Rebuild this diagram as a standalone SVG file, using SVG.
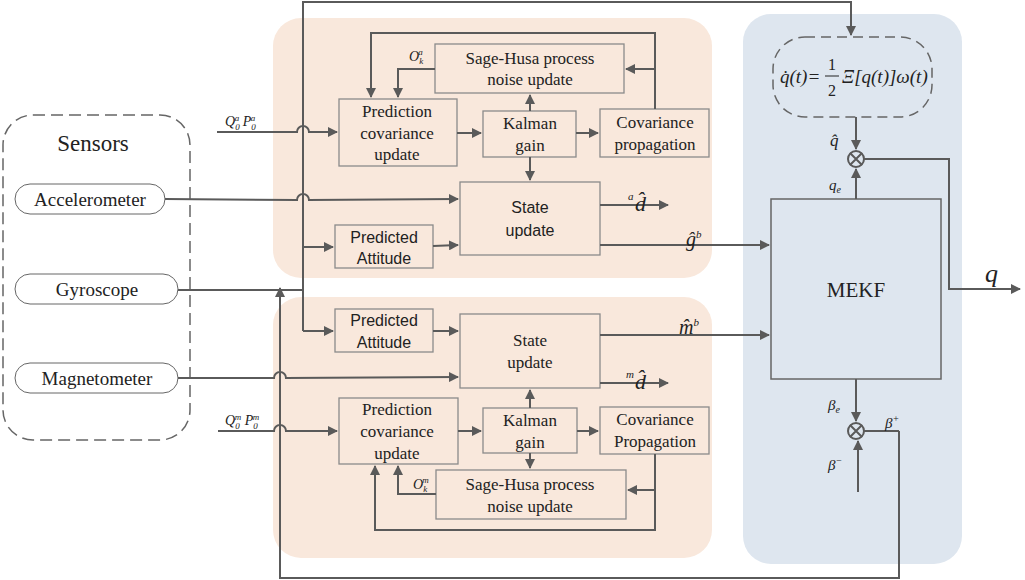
<svg xmlns="http://www.w3.org/2000/svg" width="1025" height="580" viewBox="0 0 1025 580">
<defs>
<marker id="a" markerWidth="10" markerHeight="10" refX="9" refY="5" orient="auto" markerUnits="userSpaceOnUse"><path d="M0,0 L10,5 L0,10 Z" fill="#5a5a5a"/></marker>
<style>
.b{fill:none;stroke:#8a8a8a;stroke-width:1.3}
.l{fill:none;stroke:#5a5a5a;stroke-width:2}
text{fill:#222}
.t{font-family:"Liberation Serif","Times New Roman",serif;text-anchor:middle}
.s{font-family:"Liberation Sans",Arial,sans-serif;text-anchor:middle}
.m{font-family:"Liberation Serif","Times New Roman",serif;font-style:italic}
</style>
</defs>
<rect width="1025" height="580" fill="#fff"/>
<rect x="273" y="18" width="439" height="260" rx="28" fill="#f9e8dc"/>
<rect x="273" y="297" width="439" height="261" rx="28" fill="#f9e8dc"/>
<rect x="743" y="14" width="219" height="550" rx="28" fill="#dee6ef"/>

<g font-family="Liberation Serif, serif" font-size="17">
<g id="sensors"><rect x="3" y="115" width="187" height="325" rx="30" fill="none" stroke="#666" stroke-width="1.5" stroke-dasharray="12,6"/><text x="93" y="151" class="t" font-size="23">Sensors</text></g>
<g id="acc"><rect x="15" y="184" width="150" height="30" rx="15" fill="#fff" stroke="#666"/><text x="90" y="206" class="t" font-size="19">Accelerometer</text></g>
<g id="gyro"><rect x="15" y="274" width="163" height="30" rx="15" fill="#fff" stroke="#666"/><text x="97" y="296" class="t" font-size="19">Gyroscope</text></g>
<g id="mag"><rect x="15" y="363" width="163" height="30" rx="15" fill="#fff" stroke="#666"/><text x="97" y="385" class="t" font-size="19">Magnetometer</text></g>

<g id="sh1"><rect class="b" x="435" y="44" width="189" height="49"/><text class="t" x="530" y="64">Sage-Husa process</text><text class="t" x="530" y="85">noise update</text></g>
<g id="pc1"><rect class="b" x="339" y="99" width="118" height="67"/><text class="t" x="397" y="117">Prediction</text><text class="t" x="397" y="139">covariance</text><text class="t" x="397" y="160">update</text></g>
<g id="kg1"><rect class="b" x="483" y="111" width="93" height="46"/><text class="t" x="530" y="129">Kalman</text><text class="t" x="530" y="151">gain</text></g>
<g id="cp1"><rect class="b" x="600" y="109" width="109" height="48"/><text class="t" x="655" y="128">Covariance</text><text class="t" x="655" y="150">propagation</text></g>
<g id="su1"><rect class="b" x="460" y="182" width="140" height="73"/><text class="s" x="530" y="213" font-size="16">State</text><text class="s" x="530" y="236" font-size="16">update</text></g>
<g id="pa1"><rect class="b" x="335" y="225" width="98" height="43"/><text class="s" x="384" y="243" font-size="16">Predicted</text><text class="s" x="384" y="264" font-size="16">Attitude</text></g>

<g id="pa2"><rect class="b" x="335" y="309" width="98" height="43"/><text class="s" x="384" y="326" font-size="16">Predicted</text><text class="s" x="384" y="348" font-size="16">Attitude</text></g>
<g id="su2"><rect class="b" x="460" y="314" width="140" height="74"/><text class="t" x="530" y="346">State</text><text class="t" x="530" y="368">update</text></g>
<g id="pc2"><rect class="b" x="339" y="398" width="119" height="66"/><text class="t" x="397" y="415">Prediction</text><text class="t" x="397" y="437">covariance</text><text class="t" x="397" y="459">update</text></g>
<g id="kg2"><rect class="b" x="483" y="408" width="94" height="45"/><text class="t" x="530" y="426">Kalman</text><text class="t" x="530" y="448">gain</text></g>
<g id="cp2"><rect class="b" x="600" y="407" width="109" height="47"/><text class="t" x="655" y="425">Covariance</text><text class="t" x="655" y="447">Propagation</text></g>
<g id="sh2"><rect class="b" x="436" y="470" width="190" height="49"/><text class="t" x="530" y="490">Sage-Husa process</text><text class="t" x="530" y="512">noise update</text></g>

<g id="formula"><rect x="773" y="37" width="159" height="80" rx="32" fill="none" stroke="#666" stroke-width="1.5" stroke-dasharray="10,6"/>
<text class="m" x="780" y="83" font-size="19">q̇(t)=</text><text class="t" x="832" y="70" font-size="16">1</text><line x1="825" y1="76" x2="839" y2="76" stroke="#222"/><text class="t" x="832" y="96" font-size="16">2</text><text class="m" x="842" y="83" font-size="19">Ξ[q(t)]ω(t)</text></g>
<g id="mekf"><rect x="771" y="199" width="170" height="180" fill="none" stroke="#666" stroke-width="1.5"/><text class="t" x="856" y="297" font-size="21">MEKF</text></g>
<g id="sum1"><circle cx="856" cy="159" r="8" fill="none" stroke="#5a5a5a" stroke-width="2"/><path d="M850,153 L862,165 M862,153 L850,165" stroke="#5a5a5a" stroke-width="2"/></g>
<g id="sum2"><circle cx="856" cy="431" r="8" fill="none" stroke="#5a5a5a" stroke-width="2"/><path d="M850,425 L862,437 M862,425 L850,437" stroke="#5a5a5a" stroke-width="2"/></g>
</g>

<g id="connectors">
<path class="l" d="M178,290 H303"/>
<path class="l" d="M303,331 V2 H851 V35" marker-end="url(#a)"/>
<path class="l" d="M899,431 V578 H280 V288" marker-end="url(#a)"/>
<path class="l" d="M217,132 H297 a6,6 0 0 1 12,0 H337" marker-end="url(#a)"/>
<path class="l" d="M165,199 L297,200 a6,6 0 0 1 12,0 L458,199" marker-end="url(#a)"/>
<path class="l" d="M303,247 H333" marker-end="url(#a)"/>
<path class="l" d="M433,246 L458,245" marker-end="url(#a)"/>
<path class="l" d="M457,133 H481" marker-end="url(#a)"/>
<path class="l" d="M576,133 H598" marker-end="url(#a)"/>
<path class="l" d="M530,111 V95" marker-end="url(#a)"/>
<path class="l" d="M530,157 V180" marker-end="url(#a)"/>
<path class="l" d="M655,109 V33 H371 V97" marker-end="url(#a)"/>
<path class="l" d="M655,69 H626" marker-end="url(#a)"/>
<path class="l" d="M435,69 H398 V97" marker-end="url(#a)"/>
<path class="l" d="M600,205 H668" marker-end="url(#a)"/>
<path class="l" d="M600,245 H769" marker-end="url(#a)"/>
<path class="l" d="M303,331 H333" marker-end="url(#a)"/>
<path class="l" d="M433,331 H458" marker-end="url(#a)"/>
<path class="l" d="M178,378 H274 a6,6 0 0 1 12,0 L458,377" marker-end="url(#a)"/>
<path class="l" d="M218,431 H274 a6,6 0 0 1 12,0 H337" marker-end="url(#a)"/>
<path class="l" d="M458,431 H481" marker-end="url(#a)"/>
<path class="l" d="M577,431 H598" marker-end="url(#a)"/>
<path class="l" d="M530,408 V390" marker-end="url(#a)"/>
<path class="l" d="M530,453 V468" marker-end="url(#a)"/>
<path class="l" d="M655,454 V530 H375 V466" marker-end="url(#a)"/>
<path class="l" d="M655,490 H628" marker-end="url(#a)"/>
<path class="l" d="M436,494 H398 V466" marker-end="url(#a)"/>
<path class="l" d="M600,335 H769" marker-end="url(#a)"/>
<path class="l" d="M600,383 H668" marker-end="url(#a)"/>
<path class="l" d="M856,117 V149" marker-end="url(#a)"/>
<path class="l" d="M856,199 V169" marker-end="url(#a)"/>
<path class="l" d="M864,159 H949 V289 H1020" marker-end="url(#a)"/>
<path class="l" d="M856,379 V421" marker-end="url(#a)"/>
<path class="l" d="M858,492 V441" marker-end="url(#a)"/>
<path class="l" d="M864,431 H899"/>
</g>

<g id="labels" font-family="Liberation Serif, serif">
<text class="m" x="225" y="126" font-size="14">Q<tspan font-size="9" dy="4">0</tspan><tspan font-size="9" dx="-5" dy="-9">a</tspan><tspan dy="5"> P</tspan><tspan font-size="9" dy="4">0</tspan><tspan font-size="9" dx="-5" dy="-9">a</tspan></text>
<text class="m" x="225" y="425" font-size="14">Q<tspan font-size="9" dy="4">0</tspan><tspan font-size="9" dx="-5" dy="-9">m</tspan><tspan dy="5"> P</tspan><tspan font-size="9" dy="4">0</tspan><tspan font-size="9" dx="-5" dy="-9">m</tspan></text>
<text class="m" x="409" y="61" font-size="14">O<tspan font-size="9" dy="3">k</tspan><tspan font-size="9" dx="-5" dy="-9">a</tspan></text>
<text class="m" x="413" y="489" font-size="14">O<tspan font-size="9" dy="3">k</tspan><tspan font-size="9" dx="-5" dy="-9">m</tspan></text>
<text class="m" x="628" y="200" font-size="11">a</text><text class="m" x="635" y="211" font-size="22">d̂</text>
<text class="m" x="626" y="378" font-size="11">m</text><text class="m" x="635" y="389" font-size="22">d̂</text>
<text class="m" x="686" y="246" font-size="20">ĝ<tspan font-size="11" dy="-8">b</tspan></text>
<text class="m" x="679" y="334" font-size="20">m̂<tspan font-size="11" dy="-8">b</tspan></text>
<text class="m" x="830" y="146" font-size="17">q̂</text>
<text class="m" x="829" y="190" font-size="15">q<tspan font-size="10" dy="3">e</tspan></text>
<text class="m" x="985" y="282" font-size="26">q</text>
<text class="m" x="828" y="410" font-size="15">β<tspan font-size="10" dy="3">e</tspan></text>
<text class="m" x="885" y="428" font-size="15">β<tspan font-size="10" dy="-6">+</tspan></text>
<text class="m" x="828" y="470" font-size="15">β<tspan font-size="10" dy="-6">−</tspan></text>
</g>
</svg>
